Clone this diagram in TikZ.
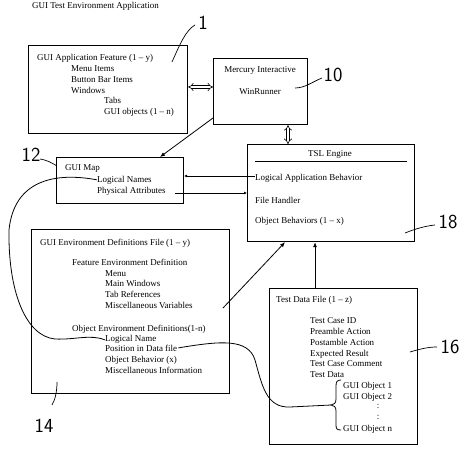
\documentclass[tikz,border=0pt]{standalone}
\usepackage{fontspec}
\setmainfont{Liberation Serif}
\usetikzlibrary{arrows.meta,calc}
\begin{document}
\begin{tikzpicture}[x=1bp,y=-1bp,
  box/.style={draw, line width=1.2pt, inner sep=0pt, anchor=north west},
  txt/.style={anchor=base west, inner sep=0pt, font=\fontsize{9}{10}\selectfont},
  ctxt/.style={anchor=base, inner sep=0pt, font=\fontsize{9}{10}\selectfont},
  conn/.style={line width=0.8pt},
  arr/.style={conn, -{Latex[length=5pt,width=4pt]}},
  dotarr/.style={conn, -{Latex[length=3pt,width=3pt]}},
  dbl/.style={double, double distance=2.2pt, line width=0.6pt, {Implies}-{Implies}},
  hand/.style={font=\sffamily\fontsize{20}{20}\selectfont, inner sep=0pt},
  lead/.style={line width=0.7pt}]
\useasboundingbox (0,0) rectangle (474,467);

% title
\node[txt] (title) at (32,9) {GUI Test Environment Application};

% boxes
\node[box, minimum width=159bp, minimum height=88bp] (feat) at (28,45) {};
\node[box, minimum width=94bp, minimum height=66bp] (merc) at (213,58) {};
\node[box, minimum width=167bp, minimum height=97bp] (tsl) at (247,144) {};
\node[box, minimum width=127bp, minimum height=46bp] (gmap) at (56,157) {};
\node[box, minimum width=198bp, minimum height=164bp] (genv) at (31,229) {};
\node[box, minimum width=148bp, minimum height=156bp] (tdf) at (269,288) {};

% GUI Application Feature
\node[txt] (f0) at (37,61) {GUI Application Feature (1 -- y)};
\node[txt] (f1) at (71,72) {Menu Items};
\node[txt] (f2) at (71,83) {Button Bar Items};
\node[txt] (f3) at (71,94) {Windows};
\node[txt] (f4) at (104,104) {Tabs};
\node[txt] (f5) at (104,115) {GUI objects (1 -- n)};

% Mercury
\node[ctxt] (m0) at (260,73) {Mercury Interactive};
\node[ctxt] (m1) at (260,95) {WinRunner};

% TSL Engine
\node[ctxt] (t0) at (330,157) {TSL Engine};
\coordinate (ul1) at (255,161);
\coordinate (ul2) at (407,161);
\draw[line width=1pt] (ul1) -- (ul2);
\node[txt] (lab) at (255,181) {Logical Application Behavior};
\node[txt] (fh) at (255,204) {File Handler};
\node[txt] (ob) at (255,224) {Object Behaviors (1 -- x)};

% GUI Map
\node[txt] (g0) at (65,171) {GUI Map};
\node[txt] (lnames) at (97,183) {Logical Names};
\node[txt] (phys) at (97,194) {Physical Attributes};

% GUI Environment Definitions
\node[txt] (e0) at (40,245) {GUI Environment Definitions File (1 -- y)};
\node[txt] (e1) at (72,265) {Feature Environment Definition};
\node[txt] (e2) at (105,276) {Menu};
\node[txt] (e3) at (105,286) {Main Windows};
\node[txt] (e4) at (105,297) {Tab References};
\node[txt] (e5) at (105,308) {Miscellaneous Variables};
\node[txt] (e6) at (72,331) {Object Environment Definitions(1-n)};
\node[txt] (lname) at (105,341) {Logical Name};
\node[txt] (pos) at (105,351) {Position in Data file};
\node[txt] (e9) at (105,362) {Object Behavior (x)};
\node[txt] (e10) at (105,373) {Miscellaneous Information};

% Test Data File
\node[txt] (d0) at (276,302) {Test Data File (1 -- z)};
\node[txt] (d1) at (310,323) {Test Case ID};
\node[txt] (d2) at (310,334) {Preamble Action};
\node[txt] (d3) at (310,345) {Postamble Action};
\node[txt] (d4) at (310,356) {Expected Result};
\node[txt] (d5) at (310,366) {Test Case Comment};
\node[txt] (d6) at (310,377) {Test Data};
\node[txt] (o1) at (343,388) {GUI Object 1};
\node[txt] (o2) at (343,399) {GUI Object 2};
\node[ctxt] (dt1) at (378,408) {:};
\node[ctxt] (dt2) at (378,419) {:};
\node[txt] (on) at (343,431) {GUI Object n};

% brace
\coordinate (bt) at (331,405);
\draw[conn] (341,380) .. controls (337,380) and (336,382) .. (336,386) -- (336,399)
  .. controls (336,403) and (334,405) .. (bt)
  .. controls (334,405) and (336,407) .. (336,411) -- (336,425)
  .. controls (336,429) and (337,430) .. (341,430);

% helper coordinates
\coordinate (y87) at (0,87);
\coordinate (y118) at (0,118);
\coordinate (y176) at (0,176);
\coordinate (y193) at (0,193);
\coordinate (x160) at (160,0);
\coordinate (x285) at (285,0);
\coordinate (x288) at (288,0);
\coordinate (x315) at (315,0);
\coordinate (gstart) at (223,308);

% connectors
\draw[dbl] (feat.east |- y87) -- (merc.west |- y87);
\draw[dbl] (merc.south -| x288) -- (tsl.north -| x288);
\draw[arr] (merc.west |- y118) -- (gmap.north -| x160);
\draw[dotarr] (lab.west |- y176) -- (gmap.east |- y176);
\draw[dotarr] ([xshift=9bp]phys.east |- y193) -- (tsl.west |- y193);
\draw[arr] (gstart) -- (tsl.south -| x285);
\draw[arr] (tdf.north -| x315) -- (tsl.south -| x315);

% curves
\draw[conn] ([yshift=1bp]lnames.west) .. controls (55,172) and (14,180) .. (9,230)
  .. controls (8,290) and (25,336) .. (55,339)
  .. controls (75,340) and (90,334) .. ([yshift=-1bp]lname.west);
\draw[conn] ([xshift=1bp]pos.east) .. controls (220,341) and (248,338) .. (255,360)
  .. controls (262,385) and (266,408) .. (290,407) -- (bt);

% handwritten reference numerals
\node[hand] (n1) at (203,23) {1};
\node[hand] (n10) at (333,75) {10};
\node[hand] (n12) at (31,155) {12};
\node[hand] (n18) at (448,222) {18};
\node[hand] (n14) at (44,426) {14};
\node[hand] (n16) at (450,347) {16};

\coordinate (l1a) at (172,62);
\coordinate (l1b) at (195,25);
\coordinate (l10a) at (295,88);
\coordinate (l10b) at (322,78);
\coordinate (l12a) at (40,159);
\coordinate (l12b) at (57,166);
\coordinate (l18a) at (405,233);
\coordinate (l18b) at (435,225);
\coordinate (l14a) at (57,382);
\coordinate (l14b) at (52,405);
\coordinate (l16a) at (410,352);
\coordinate (l16b) at (437,347);
\draw[lead] (l1a) .. controls (180,44) and (186,30) .. (l1b);
\draw[lead] (l10a) .. controls (305,88) and (312,82) .. (l10b);
\draw[lead] (l12a) .. controls (47,160) and (52,163) .. (l12b);
\draw[lead] (l18a) .. controls (415,229) and (425,226) .. (l18b);
\draw[lead] (l14a) .. controls (57,392) and (55,400) .. (l14b);
\draw[lead] (l16a) .. controls (420,349) and (428,347) .. (l16b);
\end{tikzpicture}
\end{document}
